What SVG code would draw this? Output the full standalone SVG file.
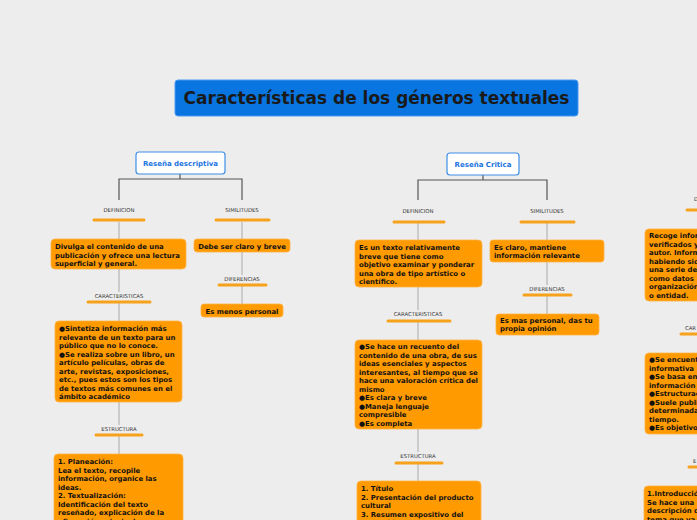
<svg xmlns="http://www.w3.org/2000/svg" width="697" height="520" viewBox="0 0 697 520">
<style>
.bg{fill:#ededed}
.t{font-family:"DejaVu Sans",Verdana,sans-serif;font-weight:bold;font-size:17px;fill:#1a1a1a}
.sub{fill:#fff;stroke:#3d8fe6;stroke-width:1.2}
.subt{font-family:"DejaVu Sans",sans-serif;font-weight:bold;font-size:7px;fill:#1a74e0}
.lbl{font-family:"DejaVu Sans",sans-serif;font-size:5.3px;fill:#333}
.ul{stroke:#f7a21b;stroke-width:3;stroke-linecap:round}
.box{fill:#ff9a00;stroke:#ffb347;stroke-width:0.8}
.bt{font-family:"DejaVu Sans",sans-serif;font-weight:bold;font-size:6.9px;fill:#111}
.c{stroke:#aaa;stroke-width:1;fill:none}
.cd{stroke:#555;stroke-width:1.2;fill:none}
</style>
<rect class="bg" width="697" height="520"/>
<g id="title"><rect x="175" y="80" width="403" height="36" rx="3" fill="#0875e1" stroke="#4a9af0"/><text class="t" x="376.5" y="104" text-anchor="middle">Características de los géneros textuales</text></g>
<g id="connectors">
<path class="cd" d="M180 174V179M119 200V179H242V200"/>
<path class="cd" d="M483 175V180M418 200V180H547V200"/>
<path class="c" d="M119 222V240M119 269V292M119 302V321M119 402V425M119 435V454"/>
<path class="c" d="M242 222V239M242 252V275M242 285V304"/>
<path class="c" d="M418 223V240M418 287V310M418 321V340M418 429V452M418 463V481"/>
<path class="c" d="M547 223V240M547 262V285M547 295V314"/>
</g>
<g id="n-desc"><rect class="sub" x="136" y="152" width="89" height="22" rx="3"/><text class="subt" x="180.5" y="166" text-anchor="middle">Reseña descriptiva</text></g>
<g id="n-d-def"><text class="lbl" x="119" y="212" text-anchor="middle">DEFINICION</text><line class="ul" x1="94" y1="220" x2="144" y2="220"/></g>
<g id="n-d-defbox"><rect class="box" x="51" y="239" width="135" height="30" rx="4"/><text class="bt" x="55" y="249">Divulga el contenido de una<tspan x="55" dy="8.5">publicación y ofrece una lectura</tspan><tspan x="55" dy="8.5">superficial y general.</tspan></text></g>
<g id="n-d-car"><text class="lbl" x="119" y="298" text-anchor="middle">CARACTERISTICAS</text><line class="ul" x1="88" y1="302" x2="150" y2="302"/></g>
<g id="n-d-carbox"><rect class="box" x="55" y="321" width="127" height="81" rx="4"/><text class="bt" x="59" y="331">●Sintetiza información más<tspan x="59" dy="8.5">relevante de un texto para un</tspan><tspan x="59" dy="8.5">público que no lo conoce.</tspan><tspan x="59" dy="8.5">●Se realiza sobre un libro, un</tspan><tspan x="59" dy="8.5">artículo películas, obras de</tspan><tspan x="59" dy="8.5">arte, revistas, exposiciones,</tspan><tspan x="59" dy="8.5">etc., pues estos son los tipos</tspan><tspan x="59" dy="8.5">de textos más comunes en el</tspan><tspan x="59" dy="8.5">ámbito académico</tspan></text></g>
<g id="n-d-est"><text class="lbl" x="119" y="431" text-anchor="middle">ESTRUCTURA</text><line class="ul" x1="96" y1="435" x2="142" y2="435"/></g>
<g id="n-d-estbox"><rect class="box" x="54" y="454" width="129" height="80" rx="4"/><text class="bt" x="58" y="464">1. Planeación:<tspan x="58" dy="8.5">Lea el texto, recopile</tspan><tspan x="58" dy="8.5">información, organice las</tspan><tspan x="58" dy="8.5">ideas.</tspan><tspan x="58" dy="8.5">2. Textualización:</tspan><tspan x="58" dy="8.5">Identificación del texto</tspan><tspan x="58" dy="8.5">reseñado, explicación de la</tspan><tspan x="58" dy="8.5">afirmación principal y</tspan></text></g>
<g id="n-d-sim"><text class="lbl" x="242" y="212" text-anchor="middle">SIMILITUDES</text><line class="ul" x1="216" y1="220" x2="269" y2="220"/></g>
<g id="n-d-simbox"><rect class="box" x="194" y="239" width="96" height="13" rx="3"/><text class="bt" x="242" y="248.5" text-anchor="middle">Debe ser claro y breve</text></g>
<g id="n-d-dif"><text class="lbl" x="242" y="281" text-anchor="middle">DIFERENCIAS</text><line class="ul" x1="219" y1="285" x2="266" y2="285"/></g>
<g id="n-d-difbox"><rect class="box" x="201" y="304" width="82" height="13" rx="3"/><text class="bt" x="242" y="313.5" text-anchor="middle">Es menos personal</text></g>
<g id="n-crit"><rect class="sub" x="447" y="153" width="72" height="22" rx="3"/><text class="subt" x="483" y="167" text-anchor="middle">Reseña Critica</text></g>
<g id="n-c-def"><text class="lbl" x="418" y="213" text-anchor="middle">DEFINICION</text><line class="ul" x1="394" y1="222" x2="444" y2="222"/></g>
<g id="n-c-defbox"><rect class="box" x="355" y="240" width="127" height="47" rx="4"/><text class="bt" x="359" y="250">Es un texto relativamente<tspan x="359" dy="8.5">breve que tiene como</tspan><tspan x="359" dy="8.5">objetivo examinar y ponderar</tspan><tspan x="359" dy="8.5">una obra de tipo artístico o</tspan><tspan x="359" dy="8.5">científico.</tspan></text></g>
<g id="n-c-car"><text class="lbl" x="418" y="316" text-anchor="middle">CARACTERISTICAS</text><line class="ul" x1="388" y1="321" x2="450" y2="321"/></g>
<g id="n-c-carbox"><rect class="box" x="355" y="340" width="127" height="89" rx="4"/><text class="bt" x="359" y="349">●Se hace un recuento del<tspan x="359" dy="8.5">contenido de una obra, de sus</tspan><tspan x="359" dy="8.5">ideas esenciales y aspectos</tspan><tspan x="359" dy="8.5">interesantes, al tiempo que se</tspan><tspan x="359" dy="8.5">hace una valoración crítica del</tspan><tspan x="359" dy="8.5">mismo</tspan><tspan x="359" dy="8.5">●Es clara y breve</tspan><tspan x="359" dy="8.5">●Maneja lenguaje</tspan><tspan x="359" dy="8.5">compresible</tspan><tspan x="359" dy="8.5">●Es completa</tspan></text></g>
<g id="n-c-est"><text class="lbl" x="418" y="458" text-anchor="middle">ESTRUCTURA</text><line class="ul" x1="396" y1="463" x2="442" y2="463"/></g>
<g id="n-c-estbox"><rect class="box" x="357" y="481" width="124" height="60" rx="4"/><text class="bt" x="361" y="491">1. Título<tspan x="361" dy="8.5">2. Presentación del producto</tspan><tspan x="361" dy="8.5">cultural</tspan><tspan x="361" dy="8.5">3. Resumen expositivo del</tspan><tspan x="361" dy="8.5">contenido</tspan></text></g>
<g id="n-c-sim"><text class="lbl" x="547" y="213" text-anchor="middle">SIMILITUDES</text><line class="ul" x1="521" y1="222" x2="574" y2="222"/></g>
<g id="n-c-simbox"><rect class="box" x="490" y="240" width="114" height="22" rx="3"/><text class="bt" x="494" y="249.5">Es claro, mantiene<tspan x="494" dy="8.5">información relevante</tspan></text></g>
<g id="n-c-dif"><text class="lbl" x="547" y="291" text-anchor="middle">DIFERENCIAS</text><line class="ul" x1="524" y1="295" x2="571" y2="295"/></g>
<g id="n-c-difbox"><rect class="box" x="496" y="314" width="103" height="21" rx="3"/><text class="bt" x="500" y="323">Es mas personal, das tu<tspan x="500" dy="8">propia opinión</tspan></text></g>
<g id="n-r-def"><text class="lbl" x="694" y="201">D</text><line class="ul" x1="687" y1="210" x2="700" y2="210"/></g>
<g id="n-r-defbox"><rect class="box" x="645" y="229" width="60" height="72" rx="4"/><text class="bt" x="649" y="238">Recoge infor<tspan x="649" dy="8.5">verificados y</tspan><tspan x="649" dy="8.5">autor. Inform</tspan><tspan x="649" dy="8.5">habiendo sid</tspan><tspan x="649" dy="8.5">una serie de</tspan><tspan x="649" dy="8.5">como datos</tspan><tspan x="649" dy="8.5">organización</tspan><tspan x="649" dy="8.5">o entidad.</tspan></text></g>
<g id="n-r-car"><text class="lbl" x="685" y="330">CAR</text><line class="ul" x1="681" y1="334" x2="700" y2="334"/></g>
<g id="n-r-carbox"><rect class="box" x="645" y="353" width="60" height="81" rx="4"/><text class="bt" x="649" y="362">●Se encuent<tspan x="649" dy="8.5">informativa</tspan><tspan x="649" dy="8.5">●Se basa en</tspan><tspan x="649" dy="8.5">información</tspan><tspan x="649" dy="8.5">●Estructurac</tspan><tspan x="649" dy="8.5">●Suele publi</tspan><tspan x="649" dy="8.5">determinada</tspan><tspan x="649" dy="8.5">tiempo.</tspan><tspan x="649" dy="8.5">●Es objetivo</tspan></text></g>
<g id="n-r-est"><text class="lbl" x="693" y="463">E</text><line class="ul" x1="689" y1="467" x2="700" y2="467"/></g>
<g id="n-r-estbox"><rect class="box" x="644" y="486" width="60" height="50" rx="4"/><text class="bt" x="647" y="496">1.Introducció<tspan x="647" dy="8.5">Se hace una</tspan><tspan x="647" dy="8.5">descripción d</tspan><tspan x="647" dy="8.5">tema que va</tspan></text></g>
</svg>
